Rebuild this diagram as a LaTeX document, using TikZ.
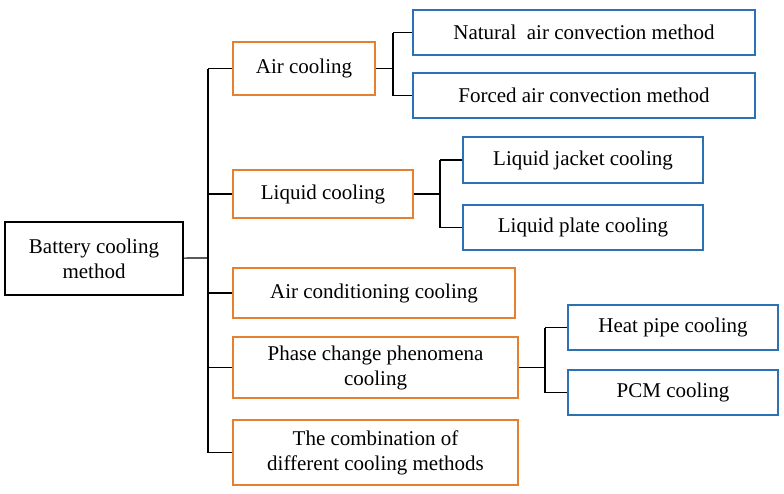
\documentclass[tikz,border=0pt]{standalone}
\usepackage{fontspec}
\setmainfont{Liberation Serif}
\begin{document}
\begin{tikzpicture}[x=1pt,y=-1pt,
  box/.style={draw,line width=1.6pt,inner sep=0pt,align=center,font=\fontsize{21}{25}\selectfont},
  ln/.style={line width=1.2pt}]
\definecolor{orng}{RGB}{228,128,48}
\definecolor{blu}{RGB}{46,112,180}
\tikzset{ob/.style={box,draw=orng},bb/.style={box,draw=blu},rb/.style={box,draw=black}}
\useasboundingbox (0,0) rectangle (784,493);
\newcommand\bx[6]{\node[#1,minimum width=#4-#2,minimum height=#5-#3] (#6) at ({(#2+#4)/2},{(#3+#5)/2})}
\bx{rb}{5}{222}{183}{295}{root}{Battery cooling\\method};
\bx{ob}{233}{42}{375}{95}{air}{Air cooling};
\bx{bb}{413}{10}{755}{55}{nat}{Natural\ \ air convection method};
\bx{bb}{413}{73}{755}{118}{forc}{Forced air convection method};
\bx{ob}{233}{170}{413}{218}{liq}{Liquid cooling};
\bx{bb}{463}{137}{703}{183}{jack}{Liquid jacket cooling};
\bx{bb}{463}{205}{703}{250}{plate}{Liquid plate cooling};
\bx{ob}{233}{268}{515}{318}{ac}{Air conditioning cooling};
\bx{ob}{233}{337}{518}{398}{pc}{Phase change phenomena\\cooling};
\bx{bb}{568}{305}{778}{350}{hp}{Heat pipe cooling};
\bx{bb}{568}{370}{778}{415}{pcm}{PCM cooling};
\bx{ob}{233}{420}{518}{485}{comb}{The combination of\\different cooling methods};
\coordinate (t) at (208,258);
\draw[ln] (root) -- (t);
\draw[ln] (t|-air) -- (t|-comb);
\foreach \n in {air,liq,ac,pc,comb} \draw[ln] (t|-\n) -- (\n.west);
\draw[ln] (air) -- (393,0|-air);
\draw[ln] (393,0|-nat) -- (393,0|-forc);
\foreach \n in {nat,forc} \draw[ln] (393,0|-\n) -- (\n.west);
\draw[ln] (liq) -- (440,0|-liq);
\draw[ln] (440,0|-jack) -- (440,0|-plate);
\foreach \n in {jack,plate} \draw[ln] (440,0|-\n) -- (\n.west);
\draw[ln] (pc) -- (545,0|-pc);
\draw[ln] (545,0|-hp) -- (545,0|-pcm);
\foreach \n in {hp,pcm} \draw[ln] (545,0|-\n) -- (\n.west);
\end{tikzpicture}
\end{document}
